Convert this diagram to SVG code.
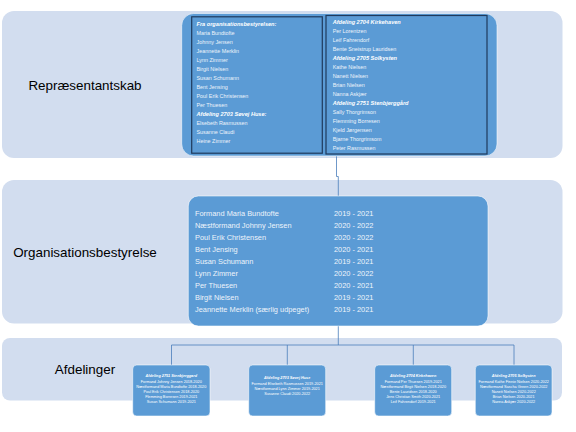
<svg xmlns="http://www.w3.org/2000/svg" width="576" height="432" viewBox="0 0 576 432">
<style>
.band{fill:#d2ddef}
.box{fill:#5b9bd5;stroke:#ffffff;stroke-opacity:0.7;stroke-width:0.8}
.sub{fill:#5b9bd5;stroke:#1f3a5c;stroke-width:1.2}
.lbl{font-family:"Liberation Sans",Arial,sans-serif;font-size:13.4px;fill:#000;text-anchor:middle}
.t{font-family:"Liberation Sans",Arial,sans-serif;font-size:5.4px;fill:#eef4fb}
.th{font-family:"Liberation Sans",Arial,sans-serif;font-size:5.6px;fill:#ffffff;font-weight:bold;font-style:italic}
.m{font-family:"Liberation Sans",Arial,sans-serif;font-size:7.4px;fill:#eef4fb}
.b{font-family:"Liberation Sans",Arial,sans-serif;font-size:3.8px;fill:#ffffff;text-anchor:middle}
.bh{font-weight:bold;font-style:italic}
.con{fill:none;stroke:#4a7ebb;stroke-width:0.8}
</style>
<rect width="576" height="432" fill="#ffffff"/>
<g id="bands">
<rect class="band" x="2" y="11" width="560.5" height="147" rx="12"/>
<rect class="band" x="2" y="180" width="560.5" height="143.5" rx="12"/>
<rect class="band" x="2" y="338" width="560" height="62.5" rx="8"/>
</g>
<g id="labels">
<text class="lbl" x="85" y="89.8">Repræsentantskab</text>
<text class="lbl" x="85" y="256.8">Organisationsbestyrelse</text>
<text class="lbl" x="85" y="373.8">Afdelinger</text>
</g>
<g id="connectors">
<path class="con" d="M336.5,156 V176.5 H338.3 V196"/>
<path class="con" d="M338.3,326 V345"/>
<path class="con" d="M171.5,365 V345 H514 V365"/>
<path class="con" d="M287.3,345 V365"/>
<path class="con" d="M413.3,345 V365"/>
</g>
<g id="repraesentantskab">
<rect class="box" x="181.7" y="13.5" width="315.3" height="142.5" rx="12"/>
<rect class="sub" x="191.7" y="16.8" width="130.6" height="136.4"/>
<rect class="sub" x="326" y="15.5" width="161" height="138.5"/>
<text class="th" x="196.5" y="26.3">Fra organisationsbestyrelsen:</text>
<text class="t" x="196.5" y="35.3">Maria Bundtofte</text>
<text class="t" x="196.5" y="44.3">Johnny Jensen</text>
<text class="t" x="196.5" y="53.3">Jeannette Merklin</text>
<text class="t" x="196.5" y="62.3">Lynn Zimmer</text>
<text class="t" x="196.5" y="71.3">Birgit Nielsen</text>
<text class="t" x="196.5" y="80.3">Susan Schumann</text>
<text class="t" x="196.5" y="89.3">Bent Jensing</text>
<text class="t" x="196.5" y="98.3">Poul Erik Christensen</text>
<text class="t" x="196.5" y="107.3">Per Thuesen</text>
<text class="th" x="196.5" y="116.3">Afdeling 2703 Søvej Huse:</text>
<text class="t" x="196.5" y="125.3">Elsebeth Rasmussen</text>
<text class="t" x="196.5" y="134.3">Susanne Claudi</text>
<text class="t" x="196.5" y="143.3">Heine Zimmer</text>
<text class="th" x="332.7" y="24.3">Afdeling 2704 Kirkehaven</text>
<text class="t" x="332.7" y="33.3">Per Lorentzen</text>
<text class="t" x="332.7" y="42.3">Leif Fahrendorf</text>
<text class="t" x="332.7" y="51.3">Bente Sneistrup Lauridsen</text>
<text class="th" x="332.7" y="60.3">Afdeling 2705 Solkysten</text>
<text class="t" x="332.7" y="69.3">Kathe Nielsen</text>
<text class="t" x="332.7" y="78.3">Nanett Nielsen</text>
<text class="t" x="332.7" y="87.3">Brian Nielsen</text>
<text class="t" x="332.7" y="96.3">Nanna Askjær</text>
<text class="th" x="332.7" y="105.3">Afdeling 2751 Stenbjerggård</text>
<text class="t" x="332.7" y="114.3">Sally Thorgrimson</text>
<text class="t" x="332.7" y="123.3">Flemming Borresen</text>
<text class="t" x="332.7" y="132.3">Kjeld Jørgensen</text>
<text class="t" x="332.7" y="141.3">Bjarne Thorgrimsom</text>
<text class="t" x="332.7" y="150.3">Peter Rasmussen</text>
</g>
<g id="organisationsbestyrelse">
<rect class="box" x="188.3" y="196" width="299.7" height="130" rx="10"/>
<text class="m" x="195" y="216">Formand Maria Bundtofte</text>
<text class="m" x="334" y="216">2019 - 2021</text>
<text class="m" x="195" y="228">Næstformand Johnny Jensen</text>
<text class="m" x="334" y="228">2020 - 2022</text>
<text class="m" x="195" y="240">Poul Erik Christensen</text>
<text class="m" x="334" y="240">2020 - 2022</text>
<text class="m" x="195" y="252">Bent Jensing</text>
<text class="m" x="334" y="252">2020 - 2021</text>
<text class="m" x="195" y="264">Susan Schumann</text>
<text class="m" x="334" y="264">2019 - 2021</text>
<text class="m" x="195" y="276">Lynn Zimmer</text>
<text class="m" x="334" y="276">2020 - 2022</text>
<text class="m" x="195" y="288">Per Thuesen</text>
<text class="m" x="334" y="288">2020 - 2021</text>
<text class="m" x="195" y="300">Birgit Nielsen</text>
<text class="m" x="334" y="300">2019 - 2021</text>
<text class="m" x="195" y="312">Jeannette Merklin (særlig udpeget)</text>
<text class="m" x="334" y="312">2019 - 2021</text>
</g>
<g id="afd2751">
<rect class="box" x="132.7" y="365" width="77.3" height="51" rx="4"/>
<text class="b bh" x="171.3" y="377.4">Afdeling 2751 Stenbjerggård</text>
<text class="b" x="171.3" y="382.6">Formand Johnny Jensen  2018-2020</text>
<text class="b" x="171.3" y="387.8">Næstformand Maria Bundtofte 2018-2020</text>
<text class="b" x="171.3" y="393">Poul Erik Christensen  2018-2020</text>
<text class="b" x="171.3" y="398.2">Flemming Borresen 2019-2021</text>
<text class="b" x="171.3" y="403.4">Susan Schumann 2019-2021</text>
</g>
<g id="afd2703">
<rect class="box" x="248.7" y="365" width="77" height="51" rx="4"/>
<text class="b bh" x="287.2" y="379.4">Afdeling 2703 Søvej Huse</text>
<text class="b" x="287.2" y="384.6">Formand Elsebeth Rasmussen  2019-2021</text>
<text class="b" x="287.2" y="389.8">Næstformand Lynn Zimmer 2019-2021</text>
<text class="b" x="287.2" y="395">Susanne Claudi 2020-2022</text>
</g>
<g id="afd2704">
<rect class="box" x="374.7" y="365" width="77" height="51" rx="4"/>
<text class="b bh" x="413.2" y="377.4">Afdeling 2704 Kirkehaven</text>
<text class="b" x="413.2" y="382.6">Formand Per Thuesen 2019-2021</text>
<text class="b" x="413.2" y="387.8">Næstformand Birgit Nielsen  2018-2020</text>
<text class="b" x="413.2" y="393">Bente Lauridsen 2018-2020</text>
<text class="b" x="413.2" y="398.2">Jens Christian Smith  2020-2021</text>
<text class="b" x="413.2" y="403.4">Leif Fahrendorf 2019-2021</text>
</g>
<g id="afd2705">
<rect class="box" x="475.3" y="365" width="76.7" height="51" rx="4"/>
<text class="b bh" x="513.7" y="377.4">Afdeling 2705 Solkysten</text>
<text class="b" x="513.7" y="382.6">Formand Kathe Finnie Nielsen 2020-2022</text>
<text class="b" x="513.7" y="387.8">Næstformand Sascha Green  2020-2022</text>
<text class="b" x="513.7" y="393">Nanett Nielsen  2020-2022</text>
<text class="b" x="513.7" y="398.2">Brian Nielsen 2020-2021</text>
<text class="b" x="513.7" y="403.4">Nanna Askjær 2020-2022</text>
</g>
</svg>
